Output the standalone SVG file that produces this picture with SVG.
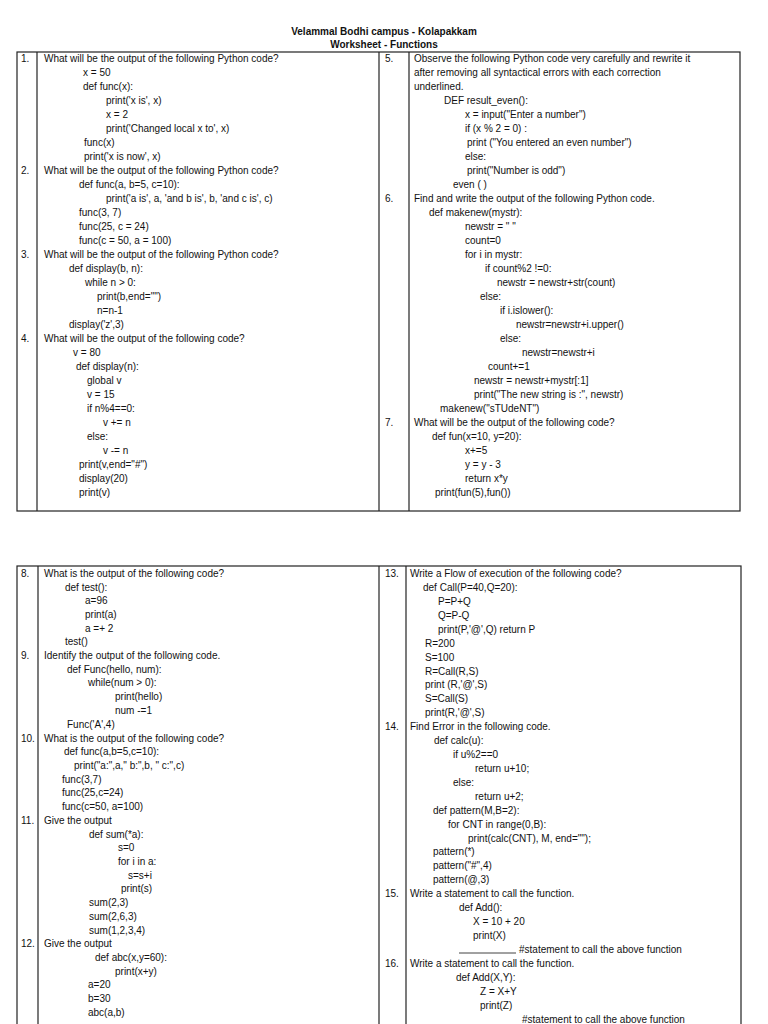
<svg xmlns="http://www.w3.org/2000/svg" width="768" height="1024" viewBox="0 0 768 1024">
<style>
text{font-family:"Liberation Sans",Arial,sans-serif;font-size:10px;fill:#111}
.t{font-weight:bold;font-size:10px}
.b{fill:none;stroke:#222;stroke-width:1.2}
</style>
<rect width="768" height="1024" fill="#fff"/>
<g id="title">
<text class="t" x="384" y="35" text-anchor="middle">Velammal Bodhi campus - Kolapakkam</text>
<text class="t" x="384" y="48" text-anchor="middle">Worksheet - Functions</text>
</g>
<g id="table-top">
<rect class="b" x="17" y="52" width="723" height="459"/>
<line class="b" x1="37" y1="52" x2="37" y2="511"/>
<line class="b" x1="379" y1="52" x2="379" y2="511"/>
<line class="b" x1="409" y1="52" x2="409" y2="511"/>
</g>
<g id="table-bottom">
<rect class="b" x="17" y="566" width="724" height="470"/>
<line class="b" x1="38" y1="566" x2="38" y2="1024"/>
<line class="b" x1="379" y1="566" x2="379" y2="1024"/>
<line class="b" x1="406" y1="566" x2="406" y2="1024"/>
</g>
<g id="q1-4">
<text x="21" y="62">1.</text><text x="44" y="62">What will be the output of the following Python code?</text>
<text x="83" y="76">x = 50</text>
<text x="83" y="90">def func(x):</text>
<text x="106" y="104">print('x is', x)</text>
<text x="106" y="118">x = 2</text>
<text x="106" y="132">print('Changed local x to', x)</text>
<text x="84" y="146">func(x)</text>
<text x="84" y="160">print('x is now', x)</text>
<text x="21" y="174">2.</text><text x="44" y="174">What will be the output of the following Python code?</text>
<text x="79" y="188">def func(a, b=5, c=10):</text>
<text x="106" y="202">print('a is', a, 'and b is', b, 'and c is', c)</text>
<text x="79" y="216">func(3, 7)</text>
<text x="79" y="230">func(25, c = 24)</text>
<text x="79" y="244">func(c = 50, a = 100)</text>
<text x="21" y="258">3.</text><text x="44" y="258">What will be the output of the following Python code?</text>
<text x="69" y="272">def display(b, n):</text>
<text x="85" y="286">while n &gt; 0:</text>
<text x="97" y="300">print(b,end="")</text>
<text x="97" y="314">n=n-1</text>
<text x="69" y="328">display('z',3)</text>
<text x="21" y="342">4.</text><text x="44" y="342">What will be the output of the following code?</text>
<text x="73" y="356">v = 80</text>
<text x="76" y="370">def display(n):</text>
<text x="87" y="384">global v</text>
<text x="87" y="398">v = 15</text>
<text x="87" y="412">if n%4==0:</text>
<text x="103" y="426">v += n</text>
<text x="87" y="440">else:</text>
<text x="103" y="454">v -= n</text>
<text x="79" y="468">print(v,end="#")</text>
<text x="79" y="482">display(20)</text>
<text x="79" y="496">print(v)</text>
</g>
<g id="q5-7">
<text x="385" y="62">5.</text><text x="414" y="62">Observe the following Python code very carefully and rewrite it</text>
<text x="414" y="76">after removing all syntactical errors with each correction</text>
<text x="414" y="90">underlined.</text>
<text x="444" y="104">DEF result_even():</text>
<text x="465" y="118">x = input("Enter a number")</text>
<text x="465" y="132">if (x % 2 = 0) :</text>
<text x="467" y="146">print ("You entered an even number")</text>
<text x="465" y="160">else:</text>
<text x="467" y="174">print("Number is odd")</text>
<text x="453" y="188">even ( )</text>
<text x="385" y="202">6.</text><text x="414" y="202">Find and write the output of the following Python code.</text>
<text x="429" y="216">def makenew(mystr):</text>
<text x="465" y="230">newstr = " "</text>
<text x="465" y="244">count=0</text>
<text x="465" y="258">for i in mystr:</text>
<text x="485" y="272">if count%2 !=0:</text>
<text x="497" y="286">newstr = newstr+str(count)</text>
<text x="480" y="300">else:</text>
<text x="500" y="314">if i.islower():</text>
<text x="516" y="328">newstr=newstr+i.upper()</text>
<text x="500" y="342">else:</text>
<text x="522" y="356">newstr=newstr+i</text>
<text x="488" y="370">count+=1</text>
<text x="474" y="384">newstr = newstr+mystr[:1]</text>
<text x="474" y="398">print("The new string is :", newstr)</text>
<text x="440" y="412">makenew("sTUdeNT")</text>
<text x="385" y="426">7.</text><text x="414" y="426">What will be the output of the following code?</text>
<text x="432" y="440">def fun(x=10, y=20):</text>
<text x="465" y="454">x+=5</text>
<text x="465" y="468">y = y - 3</text>
<text x="465" y="482">return x*y</text>
<text x="435" y="496">print(fun(5),fun())</text>
</g>
<g id="q8-12">
<text x="21" y="577">8.</text><text x="44" y="577">What is the output of the following code?</text>
<text x="65" y="591">def test():</text>
<text x="85" y="604">a=96</text>
<text x="85" y="618">print(a)</text>
<text x="85" y="632">a =+ 2</text>
<text x="65" y="645">test()</text>
<text x="21" y="659">9.</text><text x="44" y="659">Identify the output of the following code.</text>
<text x="67" y="673">def Func(hello, num):</text>
<text x="88" y="686">while(num &gt; 0):</text>
<text x="115" y="700">print(hello)</text>
<text x="115" y="714">num -=1</text>
<text x="67" y="728">Func('A',4)</text>
<text x="21" y="742">10.</text><text x="44" y="742">What is the output of the following code?</text>
<text x="64" y="755">def func(a,b=5,c=10):</text>
<text x="74" y="769">print("a:",a," b:",b, " c:",c)</text>
<text x="62" y="783">func(3,7)</text>
<text x="62" y="796">func(25,c=24)</text>
<text x="62" y="810">func(c=50, a=100)</text>
<text x="21" y="824">11.</text><text x="44" y="824">Give the output</text>
<text x="89" y="838">def sum(*a):</text>
<text x="118" y="851">s=0</text>
<text x="118" y="865">for i in a:</text>
<text x="128" y="879">s=s+i</text>
<text x="121" y="892">print(s)</text>
<text x="89" y="906">sum(2,3)</text>
<text x="89" y="920">sum(2,6,3)</text>
<text x="89" y="934">sum(1,2,3,4)</text>
<text x="21" y="947">12.</text><text x="44" y="947">Give the output</text>
<text x="95" y="961">def abc(x,y=60):</text>
<text x="115" y="975">print(x+y)</text>
<text x="88" y="988">a=20</text>
<text x="88" y="1002">b=30</text>
<text x="88" y="1016">abc(a,b)</text>
</g>
<g id="q13-16">
<text x="385" y="577">13.</text><text x="410" y="577">Write a Flow of execution of the following code?</text>
<text x="423" y="591">def Call(P=40,Q=20):</text>
<text x="438" y="605">P=P+Q</text>
<text x="438" y="619">Q=P-Q</text>
<text x="438" y="633">print(P,'@',Q) return P</text>
<text x="425" y="647">R=200</text>
<text x="425" y="661">S=100</text>
<text x="425" y="675">R=Call(R,S)</text>
<text x="425" y="688">print (R,'@',S)</text>
<text x="425" y="702">S=Call(S)</text>
<text x="425" y="716">print(R,'@',S)</text>
<text x="385" y="730">14.</text><text x="410" y="730">Find Error in the following code.</text>
<text x="434" y="744">def calc(u):</text>
<text x="453" y="758">if u%2==0</text>
<text x="475" y="772">return u+10;</text>
<text x="453" y="786">else:</text>
<text x="475" y="800">return u+2;</text>
<text x="433" y="814">def pattern(M,B=2):</text>
<text x="448" y="828">for CNT in range(0,B):</text>
<text x="468" y="842">print(calc(CNT), M, end="");</text>
<text x="433" y="855">pattern(*)</text>
<text x="433" y="869">pattern("#",4)</text>
<text x="433" y="883">pattern(@,3)</text>
<text x="385" y="869" display="none"></text>
<text x="385" y="897">15.</text><text x="410" y="897">Write a statement to call the function.</text>
<text x="459" y="911">def Add():</text>
<text x="473" y="925">X = 10 + 20</text>
<text x="473" y="939">print(X)</text>
<line x1="459" y1="953" x2="516" y2="953" stroke="#111" stroke-width="0.8"/>
<text x="519" y="953">#statement to call the above function</text>
<text x="385" y="967">16.</text><text x="410" y="967">Write a statement to call the function.</text>
<text x="456" y="981">def Add(X,Y):</text>
<text x="480" y="995">Z = X+Y</text>
<text x="480" y="1009">print(Z)</text>
<text x="522" y="1023">#statement to call the above function</text>
</g>
</svg>
